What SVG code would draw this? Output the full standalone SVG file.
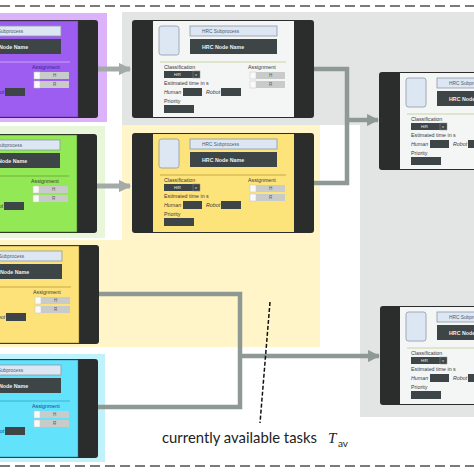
<svg xmlns="http://www.w3.org/2000/svg" width="474" height="474" viewBox="0 0 474 474">
<style>
text{font-family:"Liberation Sans","DejaVu Sans",sans-serif}
.frame{fill:#2b2c2c}
.ph{fill:#dde7f3;stroke:#8d98a6;stroke-width:0.8}
.dk{fill:#3d4547}
.lbl{fill:var(--lbl,#3a3a3a);font-size:5.3px}
.wt{fill:#eef0f0}
.cbw{fill:#fafafa;stroke:#c6c6c6;stroke-width:0.5}
.cbg{fill:#c9cbcb}
.conn{fill:none;stroke:#8e9994;stroke-width:4.5}
.conn1{fill:none;stroke:#a3aaa8;stroke-width:5}
.dash{stroke:#7a7a7a;stroke-width:2;stroke-dasharray:10 5}
</style>
<defs>
<g id="tpl">
<rect class="ph" x="6" y="6" width="20" height="29" rx="2.5"/>
<rect class="ph" x="37" y="6" width="87" height="10"/>
<text x="49" y="13" style="font-size:4.8px;fill:#4a5a70">HRC Subprocess</text>
<rect class="dk" x="37" y="19" width="87" height="15"/>
<text class="wt" x="49" y="28.5" style="font-size:5.3px;font-weight:bold">HRC Node Name</text>
<line x1="7" y1="42" x2="133" y2="42" stroke="currentColor" stroke-width="1"/>
<text class="lbl" x="11" y="49">Classification</text>
<rect class="dk" x="11" y="51" width="29" height="7"/>
<text class="wt" x="21" y="56.3" style="font-size:4px">H/R</text>
<rect class="dk" x="40" y="51" width="7" height="7" stroke="#8a9090" stroke-width="0.5"/>
<text class="wt" x="42" y="56.3" style="font-size:4px">v</text>
<text class="lbl" x="11" y="65">Estimated time in s</text>
<text class="lbl" x="11" y="74" style="font-style:italic">Human</text>
<rect class="dk" x="30" y="68" width="19" height="8"/>
<text class="lbl" x="53" y="74" style="font-style:italic">Robot</text>
<rect class="dk" x="68" y="68" width="20" height="8"/>
<text class="lbl" x="11" y="82.5">Priority</text>
<rect class="dk" x="11" y="85" width="30" height="8"/>
<text class="lbl" x="95" y="49">Assignment</text>
<rect class="cbw" x="97" y="52" width="6" height="7"/>
<rect class="cbg" x="103" y="52" width="29" height="7"/>
<text x="116" y="57.3" style="font-size:4.5px;fill:#555">H</text>
<rect class="cbw" x="97" y="61" width="6" height="7"/>
<rect class="cbg" x="103" y="61" width="29" height="7"/>
<text x="116" y="66.3" style="font-size:4.5px;fill:#555">R</text>
</g>
<marker id="ah" viewBox="0 0 10 10" refX="9" refY="5" markerWidth="2.7" markerHeight="2.7" orient="auto" markerUnits="strokeWidth">
<path d="M0 0 L10 5 L0 10 Z" fill="#8e9994"/>
</marker>
<marker id="ah1" viewBox="0 0 10 10" refX="9" refY="5" markerWidth="2.5" markerHeight="2.5" orient="auto" markerUnits="strokeWidth">
<path d="M0 0 L10 5 L0 10 Z" fill="#a3aaa8"/>
</marker>
</defs>

<rect width="474" height="474" fill="#ffffff"/>

<g id="regions">
<path d="M122 12 H474 V417 H360 V125 H122 Z" fill="#e3e5e5"/>
<path d="M0 240 H122 V125 H320 V347 H0 Z" fill="#fff5c9"/>
<rect x="-10" y="13" width="117" height="109" fill="#dcb2fa"/>
<rect x="-10" y="126" width="115" height="112" fill="#e8f7da"/>
<rect x="-10" y="354" width="115" height="108" fill="#bff2fb"/>
</g>

<g id="borders">
<line class="dash" x1="0" y1="6" x2="474" y2="6"/>
<line class="dash" x1="0" y1="466" x2="474" y2="466"/>
</g>

<g id="connectors">
<line class="conn1" x1="98" y1="69" x2="130" y2="69" marker-end="url(#ah1)"/>
<line class="conn1" x1="97" y1="186" x2="130" y2="186" marker-end="url(#ah1)"/>
<path class="conn" d="M314 69 H347 V183 H314"/>
<line class="conn" x1="347" y1="120" x2="378" y2="120" marker-end="url(#ah)"/>
<path class="conn" d="M98 294 H240 V407 H98"/>
<line class="conn" x1="240" y1="356" x2="379" y2="356" marker-end="url(#ah)"/>
<line x1="270" y1="302" x2="260" y2="423" stroke="#111" stroke-width="1.5" stroke-dasharray="4 2"/>
</g>

<g id="card-purple">
<rect class="frame" x="-200" y="20" width="298" height="98" rx="3"/>
<rect x="-63" y="21" width="141" height="96" fill="#9c5df0" stroke="#5a3a90" stroke-width="0.5"/>
<use href="#tpl" transform="translate(-63,20)" color="#c9a6f5" style="--lbl:#2f2a8a"/>
</g>

<g id="card-green">
<rect class="frame" x="-200" y="134" width="297" height="99" rx="3"/>
<rect x="-64" y="135" width="141" height="97" fill="#93e855" stroke="#3f6a20" stroke-width="0.5"/>
<use href="#tpl" transform="translate(-64,134)" color="#6fae3a"/>
</g>

<g id="card-yellow-left">
<rect class="frame" x="-200" y="245" width="299" height="99" rx="3"/>
<rect x="-62" y="246" width="141" height="97" fill="#fde27a" stroke="#7a6a30" stroke-width="0.5"/>
<use href="#tpl" transform="translate(-62,245)" color="#c9a940"/>
</g>

<g id="card-cyan">
<rect class="frame" x="-200" y="359" width="298" height="99" rx="3"/>
<rect x="-63" y="360" width="141" height="97" fill="#62e3fb" stroke="#2a7a90" stroke-width="0.5"/>
<use href="#tpl" transform="translate(-63,359)" color="#3ab0cc" style="--lbl:#1a3c8c"/>
</g>

<g id="card-gray-top">
<rect class="frame" x="132" y="20" width="182" height="98" rx="3"/>
<rect x="153" y="21" width="141" height="96" fill="#f4f5f5"/>
<use href="#tpl" transform="translate(153,20)" color="#c9d6a0"/>
</g>

<g id="card-yellow-mid">
<rect class="frame" x="132" y="133" width="182" height="100" rx="3"/>
<rect x="153" y="134" width="141" height="98" fill="#fce37a"/>
<use href="#tpl" transform="translate(153,133)" color="#c9a940"/>
</g>

<g id="card-right-top">
<rect class="frame" x="379" y="72" width="200" height="98" rx="3"/>
<rect x="400" y="73" width="141" height="96" fill="#f4f5f5"/>
<use href="#tpl" transform="translate(400,72)" color="#c9d6a0"/>
</g>

<g id="card-right-bottom">
<rect class="frame" x="380" y="306" width="200" height="99" rx="3"/>
<rect x="400" y="307" width="141" height="97" fill="#f4f5f5"/>
<use href="#tpl" transform="translate(400,306)" color="#c9d6a0"/>
</g>

<g id="caption">
<text x="162" y="443" style="font-size:16px;fill:#222;font-family:Lato,'Liberation Sans',sans-serif" textLength="155" lengthAdjust="spacingAndGlyphs">currently available tasks</text>
<text x="328" y="443" style="font-size:15px;fill:#222;font-family:'Liberation Serif',serif;font-style:italic">T</text>
<text x="338" y="447" style="font-size:10px;fill:#222;font-family:Lato,'Liberation Sans',sans-serif">av</text>
</g>
</svg>
